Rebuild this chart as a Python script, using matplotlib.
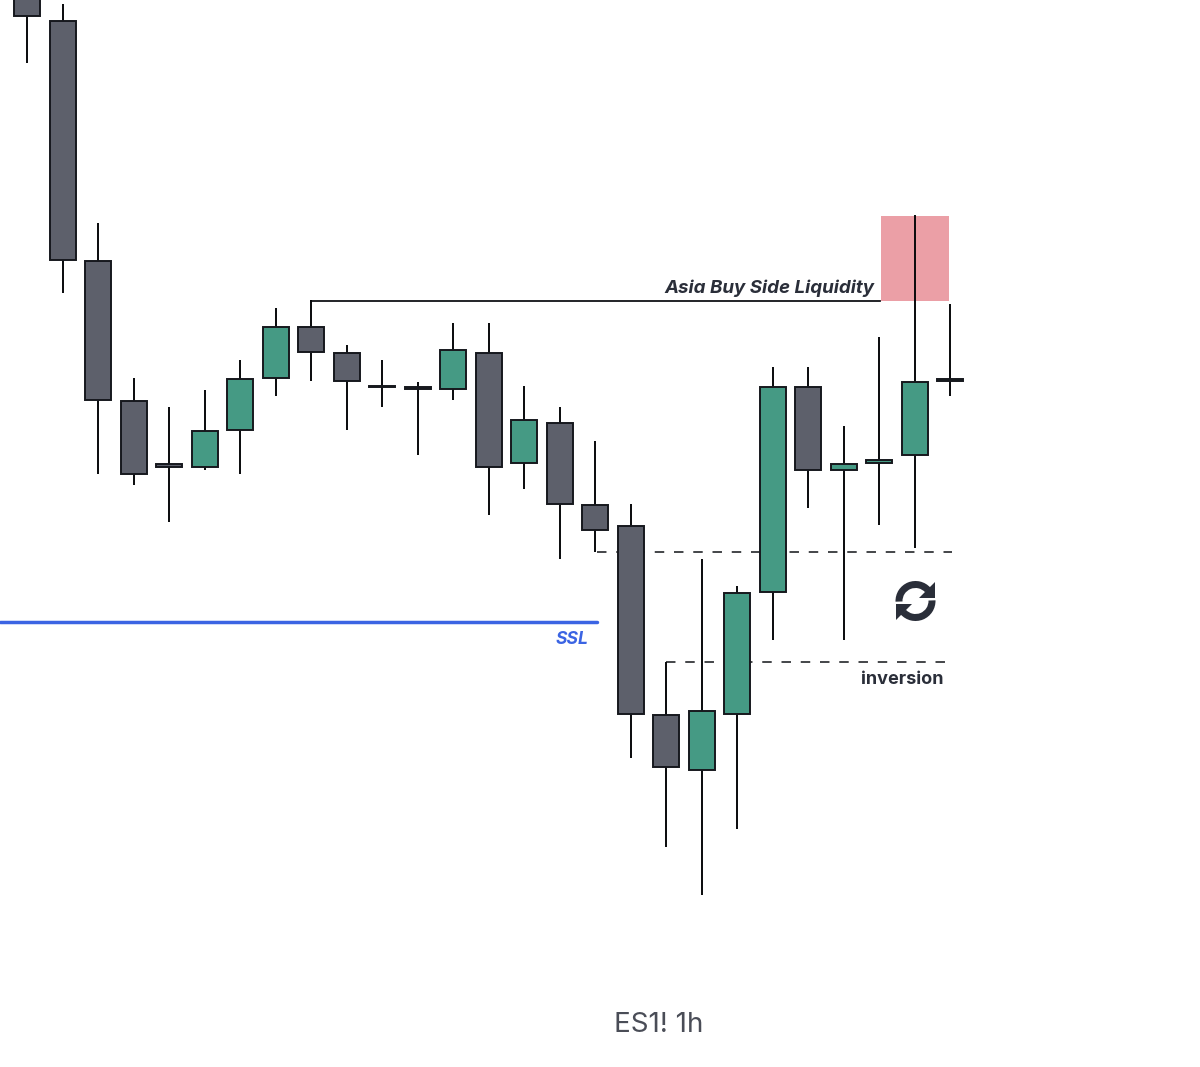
import matplotlib
matplotlib.use('Agg')
import matplotlib.pyplot as plt
from matplotlib.patches import Rectangle, Wedge, Polygon

# values, on the chart's own inverted scale (top of image = 0)
body_top = [-10, 20.5, 260.5, 401, 463.5, 430.5, 378.5, 327, 327, 352.5, 385.5, 386.5, 349.5, 352.5, 419.5, 423, 505, 526, 714.5, 711, 593, 386.5, 386.5, 464, 460, 382, 378.8]
body_bottom = [16, 259.5, 400, 474, 466.8, 467, 430, 378, 352, 381, 386.5, 389, 389, 467, 463, 504, 530, 714, 767, 770, 714, 592, 470, 470, 463, 455, 381.5]
highs = [-20, 4, 223, 378, 407, 390, 360, 308, 300, 345, 360, 382, 323, 323, 386, 407, 441, 504, 662, 559, 586, 367, 367, 426, 337, 215, 304]
lows = [63, 293, 474, 485, 522, 470, 474, 396, 381, 430, 407, 455, 400, 515, 489, 559, 552, 758, 847, 895, 829, 640, 508, 640, 525, 548, 396]
rising = [0, 0, 0, 0, 0, 1, 1, 1, 0, 0, 0, 0, 1, 0, 1, 0, 0, 0, 0, 1, 1, 1, 0, 1, 1, 1, 1]

bsl_level = 300.5
upper_dash_level = 552
inversion_level = 662
ssl_level = 622

GREEN = '#459a84'
GRAY = '#5d606b'
DARK = '#2a2e39'
BLUE = '#3b64e3'
PINK = '#eb9fa6'

plt.rcParams['font.family'] = ['Inter', 'DejaVu Sans']

fig = plt.figure(figsize=(12, 10.67), dpi=100)
ax = fig.add_axes([0, 0, 1, 1])
ax.set_xlim(0, 1200)
ax.set_ylim(1067, 0)
ax.axis('off')


def bar_x(i):
    return 27.3 + 35.5 * i


# zone behind the wick
ax.add_patch(Rectangle((881, 216), 68, 85, color=PINK, lw=0, zorder=1))

# levels
ax.plot([bar_x(8), 880], [bsl_level, bsl_level], color='#111317', lw=1.3, zorder=2)
ax.plot([0, 597], [ssl_level, ssl_level], color=BLUE, lw=2.5, zorder=2, solid_capstyle='round')
ax.plot([597, 952], [upper_dash_level, upper_dash_level], color='#111317', lw=1.1,
        linestyle=(0, (6.2, 6.4)), zorder=2)
ax.plot([bar_x(18), 952], [inversion_level, inversion_level], color='#111317', lw=1.1,
        linestyle=(0, (6.2, 6.4)), zorder=2)

# candles
for i in range(len(body_top)):
    x = bar_x(i)
    ax.plot([x, x], [highs[i], lows[i]], color='#08090b', lw=1.4, zorder=3, solid_capstyle='butt')
    color = GREEN if rising[i] else GRAY
    ax.add_patch(Rectangle((x - 13, body_top[i]), 26, body_bottom[i] - body_top[i],
                           facecolor=color, edgecolor='#16181d', lw=1.4, zorder=4))

# refresh icon
cx, cy = 915.5, 601
ax.add_patch(Wedge((cx, cy), 20, 178, 318, width=7, color=DARK, lw=0, zorder=5))
ax.add_patch(Wedge((cx, cy), 20, -2, 138, width=7, color=DARK, lw=0, zorder=5))
ax.add_patch(Polygon([(935, 582), (935, 598), (919, 598)], color=DARK, lw=0, zorder=5))
ax.add_patch(Polygon([(896, 620), (896, 604), (912, 604)], color=DARK, lw=0, zorder=5))

# labels
ax.text(874, 288, 'Asia Buy Side Liquidity', color=DARK, fontsize=13.5, fontweight='bold',
        style='italic', ha='right', va='center')
ax.text(572, 639.5, 'SSL', color=BLUE, fontsize=12.6, fontweight='bold', style='italic',
        ha='center', va='center')
ax.text(902, 679.5, 'inversion', color=DARK, fontsize=13, fontweight='bold',
        ha='center', va='center')
ax.text(658.5, 1025.5, 'ES1! 1h', color='#4a4d57', fontsize=20, ha='center', va='center')

fig.savefig('out.png', dpi=100)
